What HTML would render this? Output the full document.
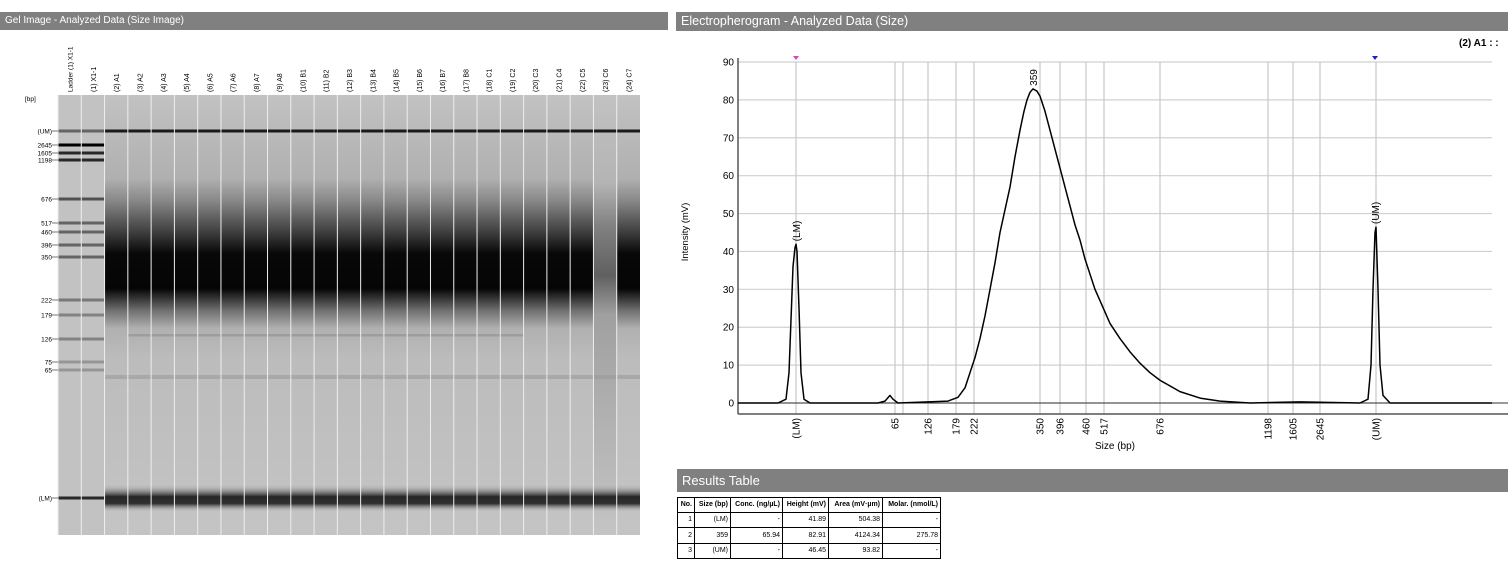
<!DOCTYPE html>
<html><head><meta charset="utf-8">
<style>
body{margin:0;width:1512px;height:577px;background:#fff;font-family:"Liberation Sans",sans-serif;overflow:hidden;position:relative}
.hdr{position:absolute;background:#808080;color:#fff}
table{border-collapse:collapse;table-layout:fixed;width:263px;font-size:7px;position:absolute;left:677px;top:497px}
td{border:1.5px solid #000;padding:0 2px;height:14.5px;text-align:right;white-space:nowrap;overflow:hidden}
tr.h td{height:13.5px}
</style></head><body>
<div class="hdr" style="left:0;top:12px;width:668px;height:18px;font-size:10px;line-height:18px;padding-left:5px;box-sizing:border-box">Gel Image - Analyzed Data (Size Image)</div>
<div class="hdr" style="left:676px;top:12px;width:832px;height:19px;font-size:12.5px;line-height:19px;padding-left:5px;box-sizing:border-box">Electropherogram - Analyzed Data (Size)</div>
<div class="hdr" style="left:677px;top:469px;width:831px;height:23px;font-size:13px;line-height:23px;padding-left:5px;box-sizing:border-box">Results Table</div>
<div style="position:absolute;left:1459px;top:38px;font-size:10px;font-weight:bold">(2) A1 : :</div>

<svg id="gel" width="670" height="577" style="position:absolute;left:0;top:0">
<defs>
<linearGradient id="smear" x1="0" y1="95" x2="0" y2="535" gradientUnits="userSpaceOnUse">
<stop offset="0" stop-color="#c2c2c2"/><stop offset="0.19" stop-color="#b0b0b0"/><stop offset="0.24" stop-color="#888"/>
<stop offset="0.31" stop-color="#404040"/><stop offset="0.36" stop-color="#080808"/><stop offset="0.44" stop-color="#050505"/>
<stop offset="0.49" stop-color="#707070"/><stop offset="0.53" stop-color="#b0b0b0"/><stop offset="0.6" stop-color="#bcbcbc"/>
<stop offset="1" stop-color="#c4c4c4"/></linearGradient>
<linearGradient id="smear2" x1="0" y1="95" x2="0" y2="535" gradientUnits="userSpaceOnUse">
<stop offset="0" stop-color="#c2c2c2"/><stop offset="0.2" stop-color="#b4b4b4"/><stop offset="0.3" stop-color="#808080"/>
<stop offset="0.41" stop-color="#606060"/><stop offset="0.5" stop-color="#a0a0a0"/><stop offset="1" stop-color="#c4c4c4"/></linearGradient>
<linearGradient id="lmg" x1="0" y1="0" x2="0" y2="1">
<stop offset="0" stop-color="#c0c0c0" stop-opacity="0"/><stop offset="0.45" stop-color="#151515"/><stop offset="0.7" stop-color="#202020"/><stop offset="1" stop-color="#c0c0c0" stop-opacity="0"/></linearGradient>
</defs>
</svg>

<svg id="ep" width="1512" height="470" style="position:absolute;left:0;top:0"></svg>

<table>
<colgroup><col style="width:17px"><col style="width:36px"><col style="width:52px"><col style="width:46px"><col style="width:54px"><col style="width:58px"></colgroup>
<tr class="h" style="font-weight:bold"><td>No.</td><td>Size (bp)</td><td>Conc. (ng/µL)</td><td>Height (mV)</td><td>Area (mV·µm)</td><td>Molar. (nmol/L)</td></tr>
<tr><td>1</td><td>(LM)</td><td>-</td><td>41.89</td><td>504.38</td><td>-</td></tr>
<tr><td>2</td><td>359</td><td>65.94</td><td>82.91</td><td>4124.34</td><td>275.78</td></tr>
<tr><td>3</td><td>(UM)</td><td>-</td><td>46.45</td><td>93.82</td><td>-</td></tr>
</table>

<script>
// ---- Gel data ----
const laneLabels=["(1)  X1-1","(2)  A1","(3)  A2","(4)  A3","(5)  A4","(6)  A5","(7)  A6","(8)  A7","(9)  A8","(10)  B1","(11)  B2","(12)  B3","(13)  B4","(14)  B5","(15)  B6","(16)  B7","(17)  B8","(18)  C1","(19)  C2","(20)  C3","(21)  C4","(22)  C5","(23)  C6","(24)  C7"];
const ladderSizes=["(UM)","2645","1605","1198","676","517","460","396","350","222","179","126","75","65","(LM)"];
const ladderRows=[131,145,153,160,199,223,232,245,257,300,315,339,362,370,498];
const ladderStrength=[0.5,1,0.8,0.8,0.6,0.5,0.5,0.5,0.5,0.4,0.35,0.35,0.25,0.25,0.8];
const NS="http://www.w3.org/2000/svg";
function mk(p,tag,a){const e=document.createElementNS(NS,tag);for(const k in a)e.setAttribute(k,a[k]);p.appendChild(e);return e;}
const g=document.getElementById('gel');
const gx0=58,gx1=640,gy0=95,gy1=535,nL=25,lw=(gx1-gx0)/nL;
for(let i=0;i<nL;i++){
  const x=gx0+i*lw;
  const r=mk(g,'rect',{x:x,y:gy0,width:lw,height:gy1-gy0,fill:i<2?'#c2c2c2':(i==23?'url(#smear2)':'url(#smear)')});
  
  
  if(i<2){
    ladderRows.forEach((y,j)=>{const c=Math.round(200-ladderStrength[j]*200);
      const b=mk(g,'rect',{x:x,y:y-1.5,width:lw,height:3,fill:`rgb(${c},${c},${c})`});
      
      });
  } else {
    const u=mk(g,'rect',{x:x,y:129.5,width:lw,height:3,fill:'#1a1a1a'});
    
    
    const l=mk(g,'rect',{x:x,y:484,width:lw,height:28,fill:'url(#lmg)',opacity:0.9});
    
    
    const m=mk(g,'rect',{x:x,y:375,width:lw,height:4,fill:'#999',opacity:0.6});
    
    
    if(i>2&&i<20){const m2=mk(g,'rect',{x:x,y:334,width:lw,height:2.5,fill:'#888',opacity:0.5});
    
    }
  }
  mk(g,'line',{x1:x,y1:gy0,x2:x,y2:gy1,stroke:'#eee','stroke-width':1});
}
laneLabels.forEach((t,i)=>{const cx=gx0+(i+1.5)*lw+3;
  const e=mk(g,'text',{transform:`translate(${cx},92) rotate(-90)`,'font-size':7});e.textContent=t;
  
  });
{const e=mk(g,'text',{transform:`translate(${gx0+lw/2+3},92) rotate(-90)`,'font-size':6.5});e.textContent='Ladder (1) X1-1';
 
 }
{const e=mk(g,'text',{x:25,y:101,'font-size':6.5});e.textContent='[bp]';
 
 }
ladderSizes.forEach((t,j)=>{const e=mk(g,'text',{x:52,y:ladderRows[j]+2.5,'font-size':6.5,'text-anchor':'end'});e.textContent=t;
  
  
  mk(g,'line',{x1:52,x2:58,y1:ladderRows[j],y2:ladderRows[j],stroke:'#555','stroke-width':0.8});});

// ---- Electropherogram data ----
const yTicks=[0,10,20,30,40,50,60,70,80,90];
const sizeLabels=["(LM)","65","126","179","222","350","396","460","517","676","1198","1605","2645","(UM)"];
const sizeTimes=[58,157,190,218,236,302,322,348,366,422,530,555,582,638];
const traceT=[0,40,48,51,53,55,57,58,59,61,63,66,72,140,147,152,155,160,210,220,227,232,237,242,247,252,257,262,267,272,277,282,286,289,292,295,299,302,307,312,317,322,327,332,337,342,347,352,357,362,367,372,382,392,402,412,422,442,462,482,512,562,622,630,633,635,637,638,640,642,645,652,754];
const traceV=[0,0,1,8,22,36,41,41.9,40,25,8,1,0,0,0.5,2,1,0,0.5,1.5,4,8,12,17,23,30,37,45,51,57,65,72,77,80,82,82.9,82.3,81,77,72,67,62,57,52,47,43,38,34,30,27,24,21,17,13.5,10.5,8,6,3,1.3,0.5,0,0.3,0,1,10,30,45,46.4,30,10,2,0,0];
const ep=document.getElementById('ep');
const X0=738,X1=1492,Yb=403,Yt=62;
const xs=t=>X0+t, ys=v=>Yb-(v/90)*(Yb-Yt);
yTicks.forEach(v=>{mk(ep,'line',{x1:X0,x2:X1,y1:ys(v),y2:ys(v),stroke:'#d0d0d0','stroke-width':1.2});
  const e=mk(ep,'text',{x:X0-4,y:ys(v)+3.5,'font-size':10,'text-anchor':'end'});e.textContent=v;
  
  });
mk(ep,'line',{x1:xs(165),x2:xs(165),y1:Yt,y2:414,stroke:'#c8c8c8','stroke-width':1.2});
sizeTimes.forEach((t,i)=>{mk(ep,'line',{x1:xs(t),x2:xs(t),y1:Yt,y2:414,stroke:'#c8c8c8','stroke-width':1.2});
  const e=mk(ep,'text',{transform:`translate(${xs(t)+3.5},418) rotate(-90)`,'font-size':10,'text-anchor':'end'});e.textContent=sizeLabels[i];
  
  });
mk(ep,'line',{x1:X0,x2:X0,y1:Yt-4,y2:414,stroke:'#555','stroke-width':1.5});
mk(ep,'line',{x1:X0,x2:1508,y1:414,y2:414,stroke:'#555','stroke-width':1.5});
mk(ep,'line',{x1:X0,x2:1508,y1:Yb,y2:Yb,stroke:'#333','stroke-width':1});
const pts=traceT.map((t,i)=>xs(t)+','+ys(traceV[i])).join(' ');
const tr=mk(ep,'polyline',{points:pts,fill:'none',stroke:'#000','stroke-width':1.5,'stroke-linejoin':'round'});


const peakT=[58,295,637],peakV=[41.89,82.91,46.45],peakL=["(LM)","359","(UM)"];
peakT.forEach((t,i)=>{const e=mk(ep,'text',{transform:`translate(${xs(t)+4},${ys(peakV[i])-3}) rotate(-90)`,'font-size':10});e.textContent=peakL[i];
  
  });
const m1=mk(ep,'polygon',{points:`${xs(58)-3},56 ${xs(58)+3},56 ${xs(58)},60`,fill:'#e040c0'});


const m2=mk(ep,'polygon',{points:`${xs(637)-3},56 ${xs(637)+3},56 ${xs(637)},60`,fill:'#2020d0'});


{const e=mk(ep,'text',{x:1115,y:449,'font-size':10,'text-anchor':'middle'});e.textContent='Size (bp)';
 
 }
{const e=mk(ep,'text',{transform:'translate(688,232) rotate(-90)','font-size':9.5,'text-anchor':'middle'});e.textContent='Intensity (mV)';
 
 }
</script>
</body></html>
